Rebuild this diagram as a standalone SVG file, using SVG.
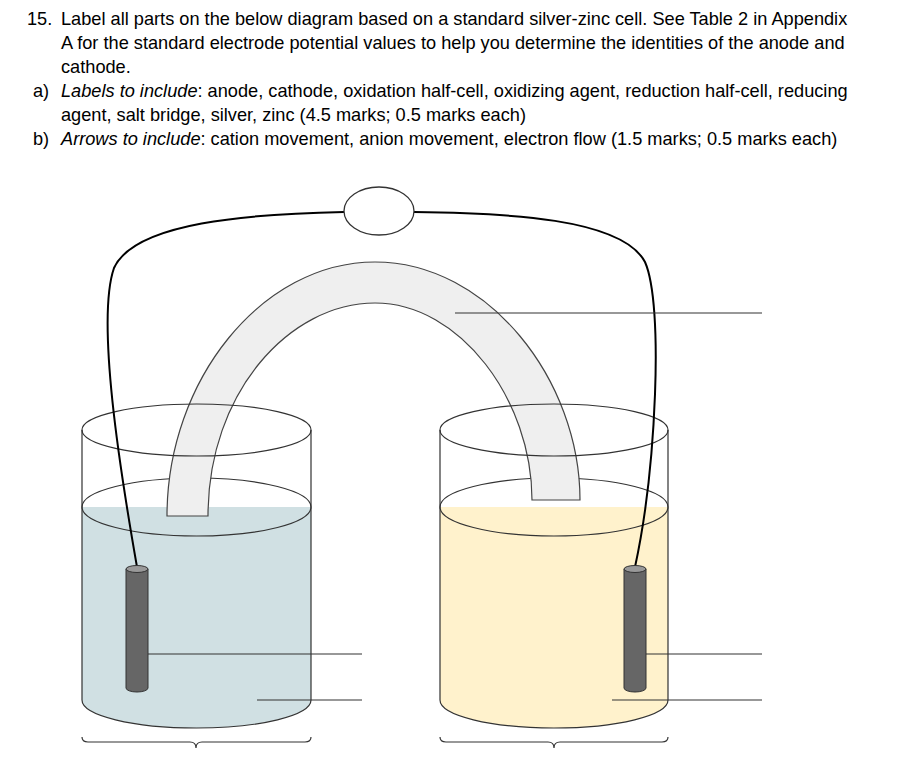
<svg xmlns="http://www.w3.org/2000/svg" width="906" height="769" viewBox="0 0 906 769">
<style>
text{font-family:"Liberation Sans",Arial,sans-serif;font-size:18.2px;fill:#000}
.o{fill:none;stroke:#333;stroke-width:1.2}
.w{fill:none;stroke:#000;stroke-width:2}
.l{stroke:#333;stroke-width:1.2}
.el{fill:#666;stroke:#333;stroke-width:1}
</style>
<rect width="906" height="769" fill="#fff"/>
<g id="question">
<text x="27" y="25">15.</text>
<text x="61" y="25">Label all parts on the below diagram based on a standard silver-zinc cell. See Table 2 in Appendix</text>
<text x="61" y="49">A for the standard electrode potential values to help you determine the identities of the anode and</text>
<text x="61" y="73">cathode.</text>
<text x="33" y="97">a)</text>
<text x="61" y="97"><tspan font-style="italic">Labels to include</tspan>: anode, cathode, oxidation half-cell, oxidizing agent, reduction half-cell, reducing</text>
<text x="61" y="121">agent, salt bridge, silver, zinc (4.5 marks; 0.5 marks each)</text>
<text x="33" y="145">b)</text>
<text x="61" y="145"><tspan font-style="italic">Arrows to include</tspan>: cation movement, anion movement, electron flow (1.5 marks; 0.5 marks each)</text>
</g>
<g id="left-beaker">
<path d="M82,507 L82,700 A114.5,28 0 0 0 311,700 L311,507 Z" fill="#d0e0e3"/>
<ellipse cx="196.5" cy="507" rx="114.5" ry="29" fill="#e0eaed" class="o"/>
<path class="o" d="M82,430 L82,700 A114.5,28 0 0 0 311,700 L311,430"/>
</g>
<g id="right-beaker">
<path d="M440,507 L440,700 A114,28 0 0 0 668,700 L668,507 Z" fill="#fff2cc"/>
<ellipse cx="554" cy="507" rx="114" ry="29" fill="#fff4d6" class="o"/>
<path class="o" d="M440,430 L440,700 A114,28 0 0 0 668,700 L668,430"/>
</g>
<g id="salt-bridge">
<path d="M167,516 C167,380 262,262 375,262 C488,262 580,380 580,500 L532,500 C532,400 460,303 375,303 C290,303 208,392 208,516 Z" fill="#efefef" stroke="#444" stroke-width="1.2"/>
</g>
<g id="beaker-rims">
<ellipse cx="196.5" cy="430" rx="114.5" ry="26" class="o"/>
<ellipse cx="554" cy="430" rx="114" ry="26" class="o"/>
</g>
<g id="connectors">
<path class="w" d="M344,212 C250,214 135,222 114,268 C96,320 120,470 137,567"/>
<path class="w" d="M414,212 C505,213 622,218 645,262 C664,305 656,470 635,567"/>
<line class="l" x1="148" y1="654" x2="362" y2="654"/>
<line class="l" x1="257" y1="700" x2="362" y2="700"/>
<line class="l" x1="646" y1="654" x2="762" y2="654"/>
<line class="l" x1="612" y1="700" x2="762" y2="700"/>
<line class="l" x1="455" y1="313" x2="762" y2="313"/>
<path class="o" d="M82,737 Q82,742 88,742 L190,742 Q196,742 196,748 Q196,742 202,742 L305,742 Q311,742 311,737"/>
<path class="o" d="M440,737 Q440,742 446,742 L548,742 Q554,742 554,748 Q554,742 560,742 L662,742 Q668,742 668,737"/>
</g>
<g id="voltmeter">
<ellipse cx="379" cy="211" rx="35" ry="24" fill="#fff" stroke="#333" stroke-width="1.3"/>
</g>
<g id="left-electrode">
<path class="el" d="M126,569 L126,688 A11,4 0 0 0 148,688 L148,569 Z"/>
<ellipse cx="137" cy="569" rx="11" ry="3.5" fill="#999" stroke="#333"/>
</g>
<g id="right-electrode">
<path class="el" d="M624,569 L624,688 A11,4 0 0 0 646,688 L646,569 Z"/>
<ellipse cx="635" cy="569" rx="11" ry="3.5" fill="#999" stroke="#333"/>
</g>
</svg>
